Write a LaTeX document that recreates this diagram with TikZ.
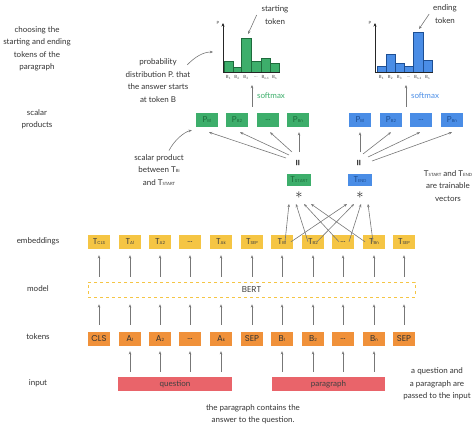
\documentclass[tikz,border=0pt]{standalone}
\usepackage{fontspec}
\setmainfont{Lato}
\newfontfamily\boxfont{Poppins}
\usetikzlibrary{arrows.meta}

\definecolor{pgreen}{HTML}{3DAE6B}
\definecolor{pgreendark}{HTML}{1E6B3C}
\definecolor{pblue}{HTML}{4A8DE6}
\definecolor{pbluedark}{HTML}{1D4F94}
\definecolor{embyellow}{HTML}{F5C544}
\definecolor{tokorange}{HTML}{F0913A}
\definecolor{inred}{HTML}{E9646A}
\definecolor{arrgray}{HTML}{777777}
\definecolor{notegray}{HTML}{333333}

% letter with a small index set on the line
\newcommand{\sublbl}[2]{#1{\fontsize{4.3}{4.5}\selectfont #2}}

\tikzset{
  box/.style={minimum width=22pt, minimum height=14pt, inner sep=0pt, font=\boxfont\fontsize{8.5}{9}\selectfont},
  tokbox/.style={box, fill=tokorange, text=black!80},
  embbox/.style={box, fill=embyellow, text=black!75},
  pgbox/.style={box, fill=pgreen, text=pgreendark},
  pbbox/.style={box, fill=pblue, text=pbluedark},
  inbar/.style={minimum height=14pt, inner sep=0pt, fill=inred, text=black!75, font=\fontsize{8}{8}\selectfont},
  note/.style={align=center, inner sep=0.75pt, text=notegray, font=\fontsize{8}{12.5}\selectfont},
  arr/.style={draw=arrgray, line width=0.6pt, -{Stealth[length=3.2pt,width=2.6pt]}},
  axisline/.style={draw=black!85, line width=0.9pt},
  gbar/.style={fill=pgreen, draw=pgreendark, line width=0.6pt},
  bbar/.style={fill=pblue, draw=pbluedark, line width=0.6pt},
  histlbl/.style={inner sep=0pt, text=black!70, font=\fontsize{4.3}{4.5}\selectfont},
  opsign/.style={inner sep=0pt, text=black!85, font=\fontsize{12}{12}\selectfont\bfseries},
  starsign/.style={inner sep=0pt, text height=6.5pt, text depth=0pt, text=black!85, font=\fontsize{14}{14}\selectfont},
}

\begin{document}
\begin{tikzpicture}[x=1pt,y=1pt,yscale=-1]
    \useasboundingbox (0,0) rectangle (474,428);

    % Text Node
    \draw (37,49) node [note] (noteChoose) {choosing the\\starting and ending\\tokens of the\\paragraph};
    % Text Node
    \draw (37,119) node [note] (noteScalar) {scalar\\products};
    % Text Node
    \draw (38,241) node [note] (noteEmb) {embeddings};
    % Text Node
    \draw (38,289) node [note] (noteModel) {model};
    % Text Node
    \draw (38,337) node [note] (noteTok) {tokens};
    % Text Node
    \draw (38,383) node [note] (noteInput) {input};

    %Shape: Rectangle [input]
    \draw (175,384) node [inbar, minimum width=114pt] (question) {question};
    \draw (328.5,384) node [inbar, minimum width=113pt] (paragraph) {paragraph};

    %Shape: Rectangle [tokens]
    \draw (99,339) node [tokbox] (tCLS) {CLS};
    \draw (130,339) node [tokbox] (tA1) {\sublbl{A}{1}};
    \draw (160,339) node [tokbox] (tA2) {\sublbl{A}{2}};
    \draw (190,339) node [tokbox] (tAd) {...};
    \draw (221,339) node [tokbox] (tAk) {\sublbl{A}{k}};
    \draw (252,339) node [tokbox] (tSEPa) {SEP};
    \draw (282,339) node [tokbox] (tB1) {\sublbl{B}{1}};
    \draw (313,339) node [tokbox] (tB2) {\sublbl{B}{2}};
    \draw (343,339) node [tokbox] (tBd) {...};
    \draw (374,339) node [tokbox] (tBn) {\sublbl{B}{n}};
    \draw (404,339) node [tokbox] (tSEPb) {SEP};

    %Shape: Rectangle [model]
    \draw (251.5,289.5) node [minimum width=327pt, minimum height=15pt, inner sep=0pt, draw=embyellow, dashed, line width=0.6pt, text=black!75, font=\boxfont\fontsize{8.5}{9}\selectfont] (bert) {BERT};

    %Shape: Rectangle [embeddings]
    \draw (99,242) node [embbox] (eCLS) {\sublbl{T}{CLS}};
    \draw (130,242) node [embbox] (eA1) {\sublbl{T}{A1}};
    \draw (160,242) node [embbox] (eA2) {\sublbl{T}{A2}};
    \draw (190,242) node [embbox] (eAd) {...};
    \draw (221,242) node [embbox] (eAk) {\sublbl{T}{Ak}};
    \draw (252,242) node [embbox] (eSEPa) {\sublbl{T}{SEP}};
    \draw (282,242) node [embbox] (eB1) {\sublbl{T}{B1}};
    \draw (313,242) node [embbox] (eB2) {\sublbl{T}{B2}};
    \draw (343,242) node [embbox] (eBd) {...};
    \draw (374,242) node [embbox] (eBn) {\sublbl{T}{Bn}};
    \draw (404,242) node [embbox] (eSEPb) {\sublbl{T}{SEP}};

    %Straight Lines [input to tokens]
    \draw [arr, shorten <=5pt, shorten >=5pt] (tA1 |- question.north) -- (tA1.south);
    \draw [arr, shorten <=5pt, shorten >=5pt] (tA2 |- question.north) -- (tA2.south);
    \draw [arr, shorten <=5pt, shorten >=5pt] (tAd |- question.north) -- (tAd.south);
    \draw [arr, shorten <=5pt, shorten >=5pt] (tAk |- question.north) -- (tAk.south);
    \draw [arr, shorten <=5pt, shorten >=5pt] (tB1 |- paragraph.north) -- (tB1.south);
    \draw [arr, shorten <=5pt, shorten >=5pt] (tB2 |- paragraph.north) -- (tB2.south);
    \draw [arr, shorten <=5pt, shorten >=5pt] (tBd |- paragraph.north) -- (tBd.south);
    \draw [arr, shorten <=5pt, shorten >=5pt] (tBn |- paragraph.north) -- (tBn.south);

    %Straight Lines [tokens to model]
    \draw [arr, shorten <=7pt, shorten >=7pt] (tCLS.north) -- (tCLS |- bert.south);
    \draw [arr, shorten <=7pt, shorten >=7pt] (tA1.north) -- (tA1 |- bert.south);
    \draw [arr, shorten <=7pt, shorten >=7pt] (tA2.north) -- (tA2 |- bert.south);
    \draw [arr, shorten <=7pt, shorten >=7pt] (tAd.north) -- (tAd |- bert.south);
    \draw [arr, shorten <=7pt, shorten >=7pt] (tAk.north) -- (tAk |- bert.south);
    \draw [arr, shorten <=7pt, shorten >=7pt] (tSEPa.north) -- (tSEPa |- bert.south);
    \draw [arr, shorten <=7pt, shorten >=7pt] (tB1.north) -- (tB1 |- bert.south);
    \draw [arr, shorten <=7pt, shorten >=7pt] (tB2.north) -- (tB2 |- bert.south);
    \draw [arr, shorten <=7pt, shorten >=7pt] (tBd.north) -- (tBd |- bert.south);
    \draw [arr, shorten <=7pt, shorten >=7pt] (tBn.north) -- (tBn |- bert.south);
    \draw [arr, shorten <=7pt, shorten >=7pt] (tSEPb.north) -- (tSEPb |- bert.south);

    %Straight Lines [model to embeddings]
    \draw [arr, shorten <=5pt, shorten >=6pt] (eCLS |- bert.north) -- (eCLS.south);
    \draw [arr, shorten <=5pt, shorten >=6pt] (eA1 |- bert.north) -- (eA1.south);
    \draw [arr, shorten <=5pt, shorten >=6pt] (eA2 |- bert.north) -- (eA2.south);
    \draw [arr, shorten <=5pt, shorten >=6pt] (eAd |- bert.north) -- (eAd.south);
    \draw [arr, shorten <=5pt, shorten >=6pt] (eAk |- bert.north) -- (eAk.south);
    \draw [arr, shorten <=5pt, shorten >=6pt] (eSEPa |- bert.north) -- (eSEPa.south);
    \draw [arr, shorten <=5pt, shorten >=6pt] (eB1 |- bert.north) -- (eB1.south);
    \draw [arr, shorten <=5pt, shorten >=6pt] (eB2 |- bert.north) -- (eB2.south);
    \draw [arr, shorten <=5pt, shorten >=6pt] (eBd |- bert.north) -- (eBd.south);
    \draw [arr, shorten <=5pt, shorten >=6pt] (eBn |- bert.north) -- (eBn.south);
    \draw [arr, shorten <=5pt, shorten >=6pt] (eSEPb |- bert.north) -- (eSEPb.south);

    %Shape: Rectangle [trainable vectors]
    \draw (299,180) node [box, minimum width=24pt, minimum height=12pt, fill=pgreen, text=pgreendark] (tStart) {\sublbl{T}{START}};
    \draw (360,180) node [box, minimum width=24pt, minimum height=12pt, fill=pblue, text=pbluedark] (tEnd) {\sublbl{T}{END}};
    % Text Node
    \draw (299,195.5) node [starsign] (starS) {$\ast$};
    \draw (360,195.5) node [starsign] (starE) {$\ast$};
    \draw (299,163) node [opsign, rotate=90] (eqS) {=};
    \draw (360,163) node [opsign, rotate=90] (eqE) {=};

    %Straight Lines [embeddings to T_START / T_END]
    \draw [arr] ([shift={(3,7)}]eB1.north) -- ([shift={(-10,8.5)}]starS.center);
    \draw [arr] ([shift={(9,7)}]eB1.north) -- ([shift={(-13,8.5)}]starE.center);
    \draw [arr] ([shift={(-5,7)}]eB2.north) -- ([shift={(-3,8.5)}]starS.center);
    \draw [arr] ([shift={(4,7)}]eB2.north) -- ([shift={(-6,8.5)}]starE.center);
    \draw [arr] ([shift={(-4,7)}]eBd.north) -- ([shift={(5,8.5)}]starS.center);
    \draw [arr] ([shift={(6,7)}]eBd.north) -- ([shift={(1,8.5)}]starE.center);
    \draw [arr] ([shift={(-9,7)}]eBn.north) -- ([shift={(12,8.5)}]starS.center);
    \draw [arr] ([shift={(-1,7)}]eBn.north) -- ([shift={(8,8.5)}]starE.center);

    %Shape: Rectangle [scalar products]
    \draw (207,120) node [pgbox] (pS1) {\sublbl{P}{B1}};
    \draw (237,120) node [pgbox] (pS2) {\sublbl{P}{B2}};
    \draw (268,120) node [pgbox] (pSd) {...};
    \draw (298,120) node [pgbox] (pSn) {\sublbl{P}{Bn}};
    \draw (360,120) node [pbbox] (pE1) {\sublbl{P}{B1}};
    \draw (391,120) node [pbbox] (pE2) {\sublbl{P}{B2}};
    \draw (421,120) node [pbbox] (pEd) {...};
    \draw (452,120) node [pbbox] (pEn) {\sublbl{P}{Bn}};

    %Straight Lines [scalar products]
    \draw [arr] ([shift={(-13,-5)}]eqS.center) -- ([shift={(2,5)}]pS1.south);
    \draw [arr] ([shift={(-10,-8)}]eqS.center) -- ([shift={(3,5)}]pS2.south);
    \draw [arr] ([shift={(-7,-11)}]eqS.center) -- ([shift={(2,5)}]pSd.south);
    \draw [arr] ([shift={(0,-11)}]eqS.center) -- ([shift={(1,5)}]pSn.south);
    \draw [arr] ([shift={(0,-11)}]eqE.center) -- ([shift={(0,5)}]pE1.south);
    \draw [arr] ([shift={(3,-9)}]eqE.center) -- ([shift={(0,5)}]pE2.south);
    \draw [arr] ([shift={(8,-6)}]eqE.center) -- ([shift={(-1,5)}]pEd.south);
    \draw [arr] ([shift={(12,-2)}]eqE.center) -- ([shift={(0,5)}]pEn.south);

    %Shape: Histogram [start]
    \draw [gbar] (224,72) rectangle (233,61);
    \draw [gbar] (233,72) rectangle (241,67);
    \draw [gbar] (241,72) rectangle (251,38);
    \draw [gbar] (251,72) rectangle (261,61);
    \draw [gbar] (261,72) rectangle (270,58);
    \draw [gbar] (270,72) rectangle (279,63);
    \draw [axisline] (223,72) -- (280,72);
    \draw [axisline, -{Stealth[length=3.5pt,width=3pt]}] (223,72) -- (223,23);
    \draw (218,23) node [histlbl] (axPS) {P};
    \draw (228.5,77.5) node [histlbl] {B\textsubscript{1}};
    \draw (237,77.5) node [histlbl] {B\textsubscript{2}};
    \draw (246,77.5) node [histlbl] {B\textsubscript{3}};
    \draw (256,77.5) node [histlbl] {...};
    \draw (265.5,77.5) node [histlbl] {B\textsubscript{n-1}};
    \draw (274.5,77.5) node [histlbl] {B\textsubscript{n}};
    \coordinate (histS) at (252,81);

    %Shape: Histogram [end]
    \draw [bbar] (377,72) rectangle (386,66);
    \draw [bbar] (386,72) rectangle (395,54);
    \draw [bbar] (395,72) rectangle (404,63);
    \draw [bbar] (404,72) rectangle (413,66);
    \draw [bbar] (413,72) rectangle (423,32);
    \draw [bbar] (423,72) rectangle (432,60);
    \draw [axisline] (375,72) -- (433,72);
    \draw [axisline, -{Stealth[length=3.5pt,width=3pt]}] (375,72) -- (375,23);
    \draw (370,23) node [histlbl] (axPE) {P};
    \draw (381.5,77.5) node [histlbl] {B\textsubscript{1}};
    \draw (390.5,77.5) node [histlbl] {B\textsubscript{2}};
    \draw (399.5,77.5) node [histlbl] {B\textsubscript{3}};
    \draw (408.5,77.5) node [histlbl] {...};
    \draw (418,77.5) node [histlbl] {B\textsubscript{n-1}};
    \draw (427.5,77.5) node [histlbl] {B\textsubscript{n}};
    \coordinate (histE) at (406,81);

    %Straight Lines [softmax]
    \draw [arr, shorten <=6pt, shorten >=4pt] (pS1.north -| histS) -- (histS);
    \draw [arr, shorten <=6pt, shorten >=4pt] (pE1.north -| histE) -- (histE);
    \draw (271,96) node [note, text=pgreen] (smS) {softmax};
    \draw (425,96) node [note, text=pblue] (smE) {softmax};

    % Text Node
    \draw (275,15) node [note] (noteStart) {starting\\token};
    \draw (445,14) node [note] (noteEnd) {ending\\token};
    \coordinate (barS) at (248,34);
    \coordinate (barE) at (419,29);
    \draw [arr] ([xshift=-4pt]noteStart.west) -- (barS);
    \draw [arr] ([xshift=-3pt]noteEnd.west) -- (barE);

    % Text Node
    \draw (158,80.5) node [note] (noteProb) {probability\\distribution P. that\\the answer starts\\at token B};
    \coordinate (axS) at (213,52);
    \draw [arr] ([shift={(-4,7)}]noteProb.north east) .. controls +(8,-8) and +(-10,0) .. (axS);

    % Text Node
    \draw (159,170) node [note] (noteDot) {scalar product\\between \sublbl{T}{Bi}\\and \sublbl{T}{START}};
    \draw [arr] ([shift={(10,-3)}]noteDot.north) .. controls +(5,-10) and +(-8,2) .. ([shift={(-4,3)}]pS1.south west);

    % Text Node
    \draw (448,186) node [note] (noteTrain) {\sublbl{T}{START} and \sublbl{T}{END}\\are trainable\\vectors};
    \draw (437,384) node [note] (notePass) {a question and\\a paragraph are\\passed to the input};
    \draw (253,414) node [note] (noteAnswer) {the paragraph contains the\\answer to the question.};

\end{tikzpicture}
\end{document}
